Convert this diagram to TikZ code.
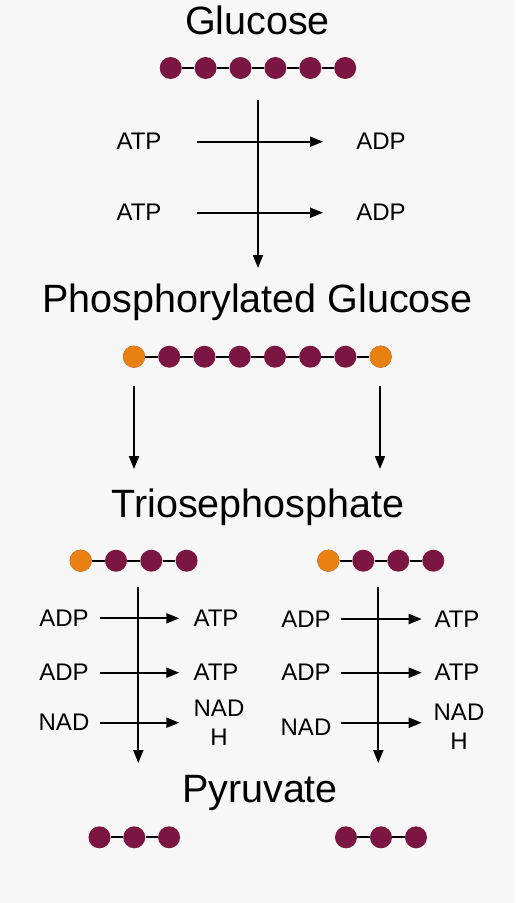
\documentclass[tikz,border=0pt]{standalone}
\usepackage{fontspec}
\setmainfont{Liberation Sans}
\usetikzlibrary{arrows.meta}
\definecolor{bg}{RGB}{247,247,247}
\definecolor{maroon}{RGB}{123,21,66}
\definecolor{orng}{RGB}{232,128,18}
\begin{document}
\begin{tikzpicture}[x=1pt,y=-1pt,
  bead/.style={circle,fill=maroon,minimum size=22pt,inner sep=0pt},
  pbead/.style={bead,fill=orng},
  link/.style={line width=2pt},
  flow/.style={line width=2pt,-{Triangle[length=13pt,width=10pt]}},
  title/.style={font=\fontsize{39.5}{40}\selectfont,anchor=base,inner sep=0pt},
  lab/.style={font=\fontsize{24}{29}\selectfont,inner sep=0pt,align=center}]
\fill[bg] (0,0) rectangle (515,903);
\useasboundingbox (0,0) rectangle (515,903);

% titles
\node[title] (tglu) at (257.5,34) {Glucose};
\node[title] (tphos) at (257.5,312.7) {Phosphorylated Glucose};
\node[title] (ttri) at (258,517.3) {Triosephosphate};
\node[title] (tpyr) at (260,802.7) {Pyruvate};

% glucose beads
\foreach \i in {1,...,6} \node[bead] (g\i) at ({170.7+34.9*(\i-1)},68) {};
\foreach \i [evaluate=\i as \j using int(\i+1)] in {1,...,5} \draw[link] (g\i) -- (g\j);

% first step
\coordinate (s1a) at (258,100); \coordinate (s1b) at (258,268);
\draw[flow] (s1a) -- (s1b);
\node[lab] (atp1) at (139,141.7) {ATP};
\node[lab] (adp1) at (381,141.7) {ADP};
\node[lab] (atp2) at (139,212.7) {ATP};
\node[lab] (adp2) at (381,212.7) {ADP};
\coordinate (h1a) at (197,141.7); \coordinate (h1b) at (323,141.7);
\coordinate (h2a) at (197,212.7); \coordinate (h2b) at (323,212.7);
\draw[flow] (h1a) -- (h1b);
\draw[flow] (h2a) -- (h2b);

% phosphorylated glucose beads
\foreach \i in {1,...,8} \node[bead] (p\i) at ({134+35.24*(\i-1)},356.7) {};
\node[pbead] at (p1) {};
\node[pbead] at (p8) {};
\foreach \i [evaluate=\i as \j using int(\i+1)] in {1,...,7} \draw[link] (p\i) -- (p\j);

% split arrows
\coordinate (d1a) at (134,386); \coordinate (d1b) at (134,469);
\coordinate (d2a) at (380,386); \coordinate (d2b) at (380,469);
\draw[flow] (d1a) -- (d1b);
\draw[flow] (d2a) -- (d2b);

% triose beads
\foreach \i in {1,...,4} \node[bead] (l\i) at ({80.7+35.3*(\i-1)},560.7) {};
\foreach \i in {1,...,4} \node[bead] (r\i) at ({328.3+35*(\i-1)},560.7) {};
\node[pbead] at (l1) {};
\node[pbead] at (r1) {};
\foreach \i [evaluate=\i as \j using int(\i+1)] in {1,...,3} {
  \draw[link] (l\i) -- (l\j);
  \draw[link] (r\i) -- (r\j);
}

% left branch
\coordinate (vla) at (138.3,586.7); \coordinate (vlb) at (138.3,763);
\draw[flow] (vla) -- (vlb);
\node[lab] (ladp1) at (64,618.3) {ADP};
\node[lab] (ladp2) at (64,672.7) {ADP};
\node[lab] (lnad) at (64,722.7) {NAD};
\node[lab] (latp1) at (216,618.3) {ATP};
\node[lab] (latp2) at (216,672.7) {ATP};
\node[lab] (lnadh) at (219,722.5) {NAD\\H};
\coordinate (la1) at (100,618.3); \coordinate (lb1) at (179.3,618.3);
\coordinate (la2) at (100,672.7); \coordinate (lb2) at (179.3,672.7);
\coordinate (la3) at (100,722.7); \coordinate (lb3) at (179.3,722.7);
\draw[flow] (la1) -- (lb1);
\draw[flow] (la2) -- (lb2);
\draw[flow] (la3) -- (lb3);

% right branch
\coordinate (vra) at (378.3,586.7); \coordinate (vrb) at (378.3,763);
\draw[flow] (vra) -- (vrb);
\node[lab] (radp1) at (306,619) {ADP};
\node[lab] (radp2) at (306,672.7) {ADP};
\node[lab] (rnad) at (306,727) {NAD};
\node[lab] (ratp1) at (457,619) {ATP};
\node[lab] (ratp2) at (457,672.7) {ATP};
\node[lab] (rnadh) at (459,727) {NAD\\H};
\coordinate (ra1) at (340.7,619); \coordinate (rb1) at (421.7,619);
\coordinate (ra2) at (340.7,672.7); \coordinate (rb2) at (421.7,672.7);
\coordinate (ra3) at (340.7,722.7); \coordinate (rb3) at (421.7,722.7);
\draw[flow] (ra1) -- (rb1);
\draw[flow] (ra2) -- (rb2);
\draw[flow] (ra3) -- (rb3);

% pyruvate beads
\foreach \i in {1,...,3} \node[bead] (yl\i) at ({99.5+34.8*(\i-1)},837.3) {};
\foreach \i in {1,...,3} \node[bead] (yr\i) at ({346+35*(\i-1)},837.3) {};
\foreach \i [evaluate=\i as \j using int(\i+1)] in {1,2} {
  \draw[link] (yl\i) -- (yl\j);
  \draw[link] (yr\i) -- (yr\j);
}
\end{tikzpicture}
\end{document}
